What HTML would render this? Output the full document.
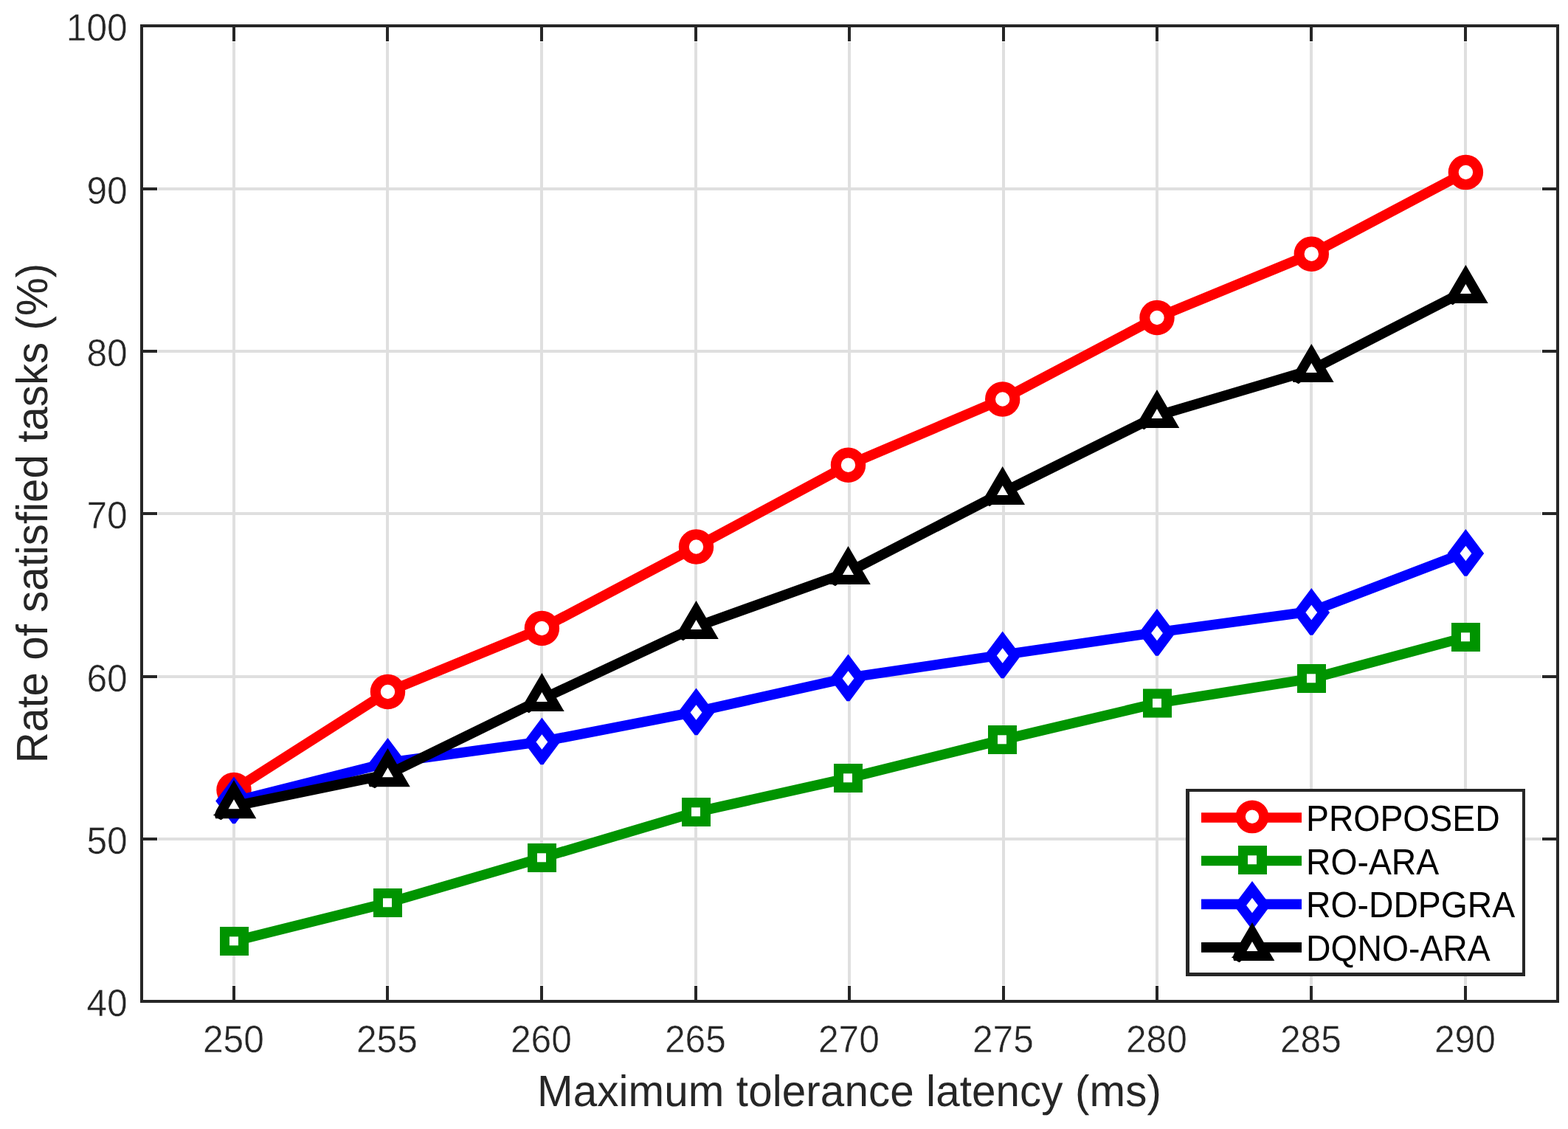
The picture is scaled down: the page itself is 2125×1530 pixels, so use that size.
<!DOCTYPE html>
<html lang="en"><head><meta charset="utf-8"><title>Rate of satisfied tasks vs maximum tolerance latency</title>
<style>html,body{margin:0;padding:0;background:#fff;}body{width:2125px;height:1530px;overflow:hidden;}svg{display:block;}text{font-family:"Liberation Sans",sans-serif;text-rendering:geometricPrecision;}</style></head><body>
<svg xmlns="http://www.w3.org/2000/svg" width="2125" height="1530" viewBox="0 0 2125 1530">
<rect width="2125" height="1530" fill="#fff"/>
<path d="M317 57V1335M525 57V1335M734 57V1335M943 57V1335M1151 57V1335M1360 57V1335M1568 57V1335M1777 57V1335M1986 57V1335M214 1137H2089M214 917H2089M214 696H2089M214 476H2089M214 256H2089" stroke="#dfdfdf" stroke-width="4" fill="none"/>
<path d="M317 1357V1336M317 35V56M525 1357V1336M525 35V56M734 1357V1336M734 35V56M943 1357V1336M943 35V56M1151 1357V1336M1151 35V56M1360 1357V1336M1360 35V56M1568 1357V1336M1568 35V56M1777 1357V1336M1777 35V56M1986 1357V1336M1986 35V56M192 1137H213M2111 1137H2090M192 917H213M2111 917H2090M192 696H213M2111 696H2090M192 476H213M2111 476H2090M192 256H213M2111 256H2090" stroke="#262626" stroke-width="4" fill="none"/>
<rect x="192" y="35" width="1919" height="1322" fill="none" stroke="#262626" stroke-width="4"/>
<text transform="translate(316.4 1425.5) scale(0.96 1)" text-anchor="middle" stroke="#fff" stroke-width="0.5" fill="#262626" font-size="51.8">250</text>
<text transform="translate(524.4 1425.5) scale(0.96 1)" text-anchor="middle" stroke="#fff" stroke-width="0.5" fill="#262626" font-size="51.8">255</text>
<text transform="translate(733.4 1425.5) scale(0.96 1)" text-anchor="middle" stroke="#fff" stroke-width="0.5" fill="#262626" font-size="51.8">260</text>
<text transform="translate(942.4 1425.5) scale(0.96 1)" text-anchor="middle" stroke="#fff" stroke-width="0.5" fill="#262626" font-size="51.8">265</text>
<text transform="translate(1150.4 1425.5) scale(0.96 1)" text-anchor="middle" stroke="#fff" stroke-width="0.5" fill="#262626" font-size="51.8">270</text>
<text transform="translate(1359.4 1425.5) scale(0.96 1)" text-anchor="middle" stroke="#fff" stroke-width="0.5" fill="#262626" font-size="51.8">275</text>
<text transform="translate(1567.4 1425.5) scale(0.96 1)" text-anchor="middle" stroke="#fff" stroke-width="0.5" fill="#262626" font-size="51.8">280</text>
<text transform="translate(1776.4 1425.5) scale(0.96 1)" text-anchor="middle" stroke="#fff" stroke-width="0.5" fill="#262626" font-size="51.8">285</text>
<text transform="translate(1985.4 1425.5) scale(0.96 1)" text-anchor="middle" stroke="#fff" stroke-width="0.5" fill="#262626" font-size="51.8">290</text>
<text transform="translate(172.7 1377) scale(0.96 1)" text-anchor="end" stroke="#fff" stroke-width="0.5" fill="#262626" font-size="51.8">40</text>
<text transform="translate(172.7 1157) scale(0.96 1)" text-anchor="end" stroke="#fff" stroke-width="0.5" fill="#262626" font-size="51.8">50</text>
<text transform="translate(172.7 937) scale(0.96 1)" text-anchor="end" stroke="#fff" stroke-width="0.5" fill="#262626" font-size="51.8">60</text>
<text transform="translate(172.7 716) scale(0.96 1)" text-anchor="end" stroke="#fff" stroke-width="0.5" fill="#262626" font-size="51.8">70</text>
<text transform="translate(172.7 496) scale(0.96 1)" text-anchor="end" stroke="#fff" stroke-width="0.5" fill="#262626" font-size="51.8">80</text>
<text transform="translate(172.7 276) scale(0.96 1)" text-anchor="end" stroke="#fff" stroke-width="0.5" fill="#262626" font-size="51.8">90</text>
<text transform="translate(172.7 55) scale(0.96 1)" text-anchor="end" stroke="#fff" stroke-width="0.5" fill="#262626" font-size="51.8">100</text>
<text transform="translate(1151 1499) scale(0.98 1)" text-anchor="middle" letter-spacing="0.12" fill="#262626" font-size="59.5">Maximum tolerance latency (ms)</text>
<text transform="translate(64 695.5) rotate(-90) scale(0.98 1)" text-anchor="middle" fill="#262626" font-size="59.5">Rate of satisfied tasks (%)</text>
<g>
<polyline points="317,1070.5 525.5,937.5 734.4,851.5 943.5,741 1149.5,630.2 1358.7,541 1568,430.5 1777.3,344.2 1986.4,233.5" fill="none" stroke="#ff0000" stroke-width="13.7" stroke-linejoin="miter"/>
<circle cx="317" cy="1070.5" r="16.7" fill="#fff" stroke="#ff0000" stroke-width="14"/>
<circle cx="525.5" cy="937.5" r="16.7" fill="#fff" stroke="#ff0000" stroke-width="14"/>
<circle cx="734.4" cy="851.5" r="16.7" fill="#fff" stroke="#ff0000" stroke-width="14"/>
<circle cx="943.5" cy="741" r="16.7" fill="#fff" stroke="#ff0000" stroke-width="14"/>
<circle cx="1149.5" cy="630.2" r="16.7" fill="#fff" stroke="#ff0000" stroke-width="14"/>
<circle cx="1358.7" cy="541" r="16.7" fill="#fff" stroke="#ff0000" stroke-width="14"/>
<circle cx="1568" cy="430.5" r="16.7" fill="#fff" stroke="#ff0000" stroke-width="14"/>
<circle cx="1777.3" cy="344.2" r="16.7" fill="#fff" stroke="#ff0000" stroke-width="14"/>
<circle cx="1986.4" cy="233.5" r="16.7" fill="#fff" stroke="#ff0000" stroke-width="14"/>
</g>
<g>
<polyline points="317,1275.5 525.5,1223.5 734.4,1162.5 943.5,1100.5 1149.5,1054.5 1358.7,1002.5 1568,953 1777.3,919.5 1986.4,863.5" fill="none" stroke="#009400" stroke-width="13.7" stroke-linejoin="miter"/>
<rect x="298" y="1256" width="39" height="39" fill="#009400"/><rect x="311" y="1269.3" width="12" height="12" fill="#fff"/>
<rect x="506" y="1204" width="39" height="39" fill="#009400"/><rect x="519" y="1217.3" width="12" height="12" fill="#fff"/>
<rect x="715" y="1143" width="39" height="39" fill="#009400"/><rect x="728" y="1156.3" width="12" height="12" fill="#fff"/>
<rect x="924" y="1081" width="39" height="39" fill="#009400"/><rect x="937" y="1094.3" width="12" height="12" fill="#fff"/>
<rect x="1130" y="1035" width="39" height="39" fill="#009400"/><rect x="1143" y="1048.3" width="12" height="12" fill="#fff"/>
<rect x="1339" y="983" width="39" height="39" fill="#009400"/><rect x="1352" y="996.3" width="12" height="12" fill="#fff"/>
<rect x="1549" y="933.5" width="39" height="39" fill="#009400"/><rect x="1562" y="946.8" width="12" height="12" fill="#fff"/>
<rect x="1758" y="900" width="39" height="39" fill="#009400"/><rect x="1771" y="913.3" width="12" height="12" fill="#fff"/>
<rect x="1967" y="844" width="39" height="39" fill="#009400"/><rect x="1980" y="857.3" width="12" height="12" fill="#fff"/>
</g>
<g>
<polyline points="317,1086.2 525.5,1033.6 734.4,1005 943.5,964.5 1149.5,918.5 1358.7,887.5 1568,857 1777.3,828.6 1986.4,748.6" fill="none" stroke="#0000ff" stroke-width="13.7" stroke-linejoin="miter"/>
<path d="M317 1052.5L341.8 1085.5L318.9 1116.2L315.1 1116.2L292.2 1085.5Z" fill="#0000ff"/><path d="M317 1075.3L324.9 1085.5L317 1095.7L309.1 1085.5Z" fill="#fff"/>
<path d="M525.5 1000L550.3 1033L527.4 1063.7L523.6 1063.7L500.7 1033Z" fill="#0000ff"/><path d="M525.5 1022.8L533.4 1033L525.5 1043.2L517.6 1033Z" fill="#fff"/>
<path d="M734.4 972.5L759.2 1005.5L736.3 1036.2L732.5 1036.2L709.6 1005.5Z" fill="#0000ff"/><path d="M734.4 995.3L742.3 1005.5L734.4 1015.7L726.5 1005.5Z" fill="#fff"/>
<path d="M943.5 932.5L968.3 965.5L945.4 996.2L941.6 996.2L918.7 965.5Z" fill="#0000ff"/><path d="M943.5 955.3L951.4 965.5L943.5 975.7L935.6 965.5Z" fill="#fff"/>
<path d="M1149.5 886.5L1174.3 919.5L1151.4 950.2L1147.6 950.2L1124.7 919.5Z" fill="#0000ff"/><path d="M1149.5 909.3L1157.4 919.5L1149.5 929.7L1141.6 919.5Z" fill="#fff"/>
<path d="M1358.7 855.5L1383.5 888.5L1360.6 919.2L1356.8 919.2L1333.9 888.5Z" fill="#0000ff"/><path d="M1358.7 878.3L1366.6 888.5L1358.7 898.7L1350.8 888.5Z" fill="#fff"/>
<path d="M1568 825L1592.8 858L1569.9 888.7L1566.1 888.7L1543.2 858Z" fill="#0000ff"/><path d="M1568 847.8L1575.9 858L1568 868.2L1560.1 858Z" fill="#fff"/>
<path d="M1777.3 797L1802.1 830L1779.2 860.7L1775.4 860.7L1752.5 830Z" fill="#0000ff"/><path d="M1777.3 819.8L1785.2 830L1777.3 840.2L1769.4 830Z" fill="#fff"/>
<path d="M1986.4 717L2011.2 750L1988.3 780.7L1984.5 780.7L1961.6 750Z" fill="#0000ff"/><path d="M1986.4 739.8L1994.3 750L1986.4 760.2L1978.5 750Z" fill="#fff"/>
</g>
<g>
<polyline points="317,1092.5 525.5,1049.5 734.4,947.4 943.5,849.4 1149.5,775.4 1358.7,667.4 1568,563.4 1777.3,501.4 1986.4,394" fill="none" stroke="#000000" stroke-width="13.7" stroke-linejoin="miter"/>
<path d="M317 1057L347.3 1109.2L302.5 1109.2L299.5 1111.3L295.5 1109.2L292.2 1109.2L291 1105.4L288.8 1104.5L291 1103.2L293.2 1097.7Z" fill="#000000"/><path d="M317 1083.2L324.5 1096.2L309.5 1096.2Z" fill="#fff"/>
<path d="M525.5 1014L555.8 1066.2L511 1066.2L508 1068.3L504 1066.2L500.7 1066.2L499.5 1062.4L497.3 1061.5L499.5 1060.2L501.7 1054.7Z" fill="#000000"/><path d="M525.5 1040.2L533 1053.2L518 1053.2Z" fill="#fff"/>
<path d="M734.4 911.9L764.7 964.1L719.9 964.1L716.9 966.2L712.9 964.1L709.6 964.1L708.4 960.3L706.2 959.4L708.4 958.1L710.6 952.6Z" fill="#000000"/><path d="M734.4 938.1L741.9 951.1L726.9 951.1Z" fill="#fff"/>
<path d="M943.5 813.9L973.8 866.1L929 866.1L926 868.2L922 866.1L918.7 866.1L917.5 862.3L915.3 861.4L917.5 860.1L919.7 854.6Z" fill="#000000"/><path d="M943.5 840.1L951 853.1L936 853.1Z" fill="#fff"/>
<path d="M1149.5 739.9L1179.8 792.1L1135 792.1L1132 794.2L1128 792.1L1124.7 792.1L1123.5 788.3L1121.3 787.4L1123.5 786.1L1125.7 780.6Z" fill="#000000"/><path d="M1149.5 766.1L1157 779.1L1142 779.1Z" fill="#fff"/>
<path d="M1358.7 631.9L1389 684.1L1344.2 684.1L1341.2 686.2L1337.2 684.1L1333.9 684.1L1332.7 680.3L1330.5 679.4L1332.7 678.1L1334.9 672.6Z" fill="#000000"/><path d="M1358.7 658.1L1366.2 671.1L1351.2 671.1Z" fill="#fff"/>
<path d="M1568 527.9L1598.3 580.1L1553.5 580.1L1550.5 582.2L1546.5 580.1L1543.2 580.1L1542 576.3L1539.8 575.4L1542 574.1L1544.2 568.6Z" fill="#000000"/><path d="M1568 554.1L1575.5 567.1L1560.5 567.1Z" fill="#fff"/>
<path d="M1777.3 465.9L1807.6 518.1L1762.8 518.1L1759.8 520.2L1755.8 518.1L1752.5 518.1L1751.3 514.3L1749.1 513.4L1751.3 512.1L1753.5 506.6Z" fill="#000000"/><path d="M1777.3 492.1L1784.8 505.1L1769.8 505.1Z" fill="#fff"/>
<path d="M1986.4 358.9L2016.7 411.1L1971.9 411.1L1968.9 413.2L1964.9 411.1L1961.6 411.1L1960.4 407.3L1958.2 406.4L1960.4 405.1L1962.6 399.6Z" fill="#000000"/><path d="M1986.4 385.1L1993.9 398.1L1978.9 398.1Z" fill="#fff"/>
</g>
<rect x="1607" y="1069" width="460" height="254" fill="#262626"/><rect x="1612" y="1073" width="451" height="245" fill="#fff"/>
<path d="M1628 1108H1764" stroke="#ff0000" stroke-width="13.7" fill="none"/>
<circle cx="1697" cy="1106.8" r="15.8" fill="#fff" stroke="#ff0000" stroke-width="13.2"/>
<text transform="translate(1770 1126) scale(0.94 1)" fill="#000" font-size="49.3">PROPOSED</text>
<path d="M1628 1166.5H1764" stroke="#009400" stroke-width="13.7" fill="none"/>
<rect x="1678" y="1146" width="39" height="39" fill="#009400"/><rect x="1691" y="1159.3" width="12" height="12" fill="#fff"/>
<text transform="translate(1770 1184.6) scale(0.94 1)" fill="#000" font-size="49.3">RO-ARA</text>
<path d="M1628 1225.4H1764" stroke="#0000ff" stroke-width="13.7" fill="none"/>
<path d="M1697 1194L1721.8 1227L1698.9 1257.7L1695.1 1257.7L1672.2 1227Z" fill="#0000ff"/><path d="M1697 1216.8L1704.9 1227L1697 1237.2L1689.1 1227Z" fill="#fff"/>
<text transform="translate(1770 1243) scale(0.94 1)" fill="#000" font-size="49.3">RO-DDPGRA</text>
<path d="M1628 1283.8H1764" stroke="#000000" stroke-width="13.7" fill="none"/>
<path d="M1697 1249.9L1727.3 1302.1L1682.5 1302.1L1679.5 1304.2L1675.5 1302.1L1672.2 1302.1L1671 1298.3L1668.8 1297.4L1671 1296.1L1673.2 1290.6Z" fill="#000000"/><path d="M1697 1276.1L1704.5 1289.1L1689.5 1289.1Z" fill="#fff"/>
<text transform="translate(1770 1302) scale(0.94 1)" fill="#000" font-size="49.3">DQNO-ARA</text>
</svg></body></html>
